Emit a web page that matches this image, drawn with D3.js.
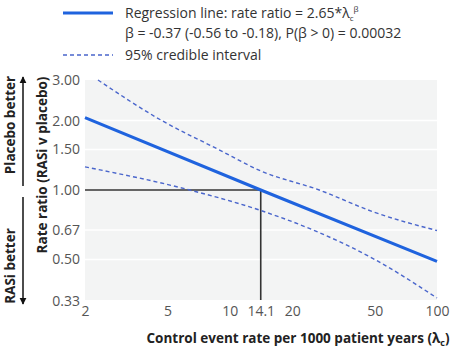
<!DOCTYPE html>
<html lang="en">
  <head>
    <meta charset="UTF-8" />
    <title>Rate ratio vs control event rate</title>
    <style>
      body { margin: 0; background: #fff; }
      text { font-family: "Open Sans", sans-serif; }
    </style>
  </head>
  <body>
    <svg id="container" width="474" height="351"></svg>
  </body>
  <script src="https://cdn.jsdelivr.net/npm/d3@7"></script>
  <script>
    // regression line (rate ratio vs control event rate)
    let regLambda = [2, 14.1, 100];
    let regRatio = [2.06, 1.00, 0.49];
    // 95% credible interval
    let upperLambda = [2.31, 4.7, 8.8, 14.1, 27, 50, 100];
    let upperRatio = [3.00, 2.00, 1.50, 1.21, 1.00, 0.80, 0.667];
    let lowerLambda = [2, 6.4, 14.1, 25.3, 50, 100];
    let lowerRatio = [1.26, 1.00, 0.815, 0.67, 0.50, 0.34];
    // ticks
    let xTicks = [2, 5, 10, 14.1, 20, 50, 100];
    let yTicks = [0.33, 0.5, 0.67, 1, 1.5, 2, 3];
    let yTickLabels = ["0.33", "0.50", "0.67", "1.00", "1.50", "2.00", "3.00"];
    let gridValues = [0.5, 0.67, 1, 1.5, 2];
    let refLambda = 14.1;

    let svg = d3.select("#container");
    let plotLeft = 85, plotRight = 437, plotTop = 80, plotBottom = 300;

    let x = d3.scaleLog().domain([2, 100]).range([plotLeft, plotRight]);
    let y = d3.scaleLog().domain([1 / 3, 3]).range([plotBottom, plotTop]);

    // plot background
    svg.append("rect").attr("x", plotLeft).attr("y", plotTop)
      .attr("width", plotRight - plotLeft).attr("height", plotBottom - plotTop)
      .attr("fill", "#f3f4f4");

    // white grid lines
    svg.selectAll(".grid").data(gridValues).enter().append("line")
      .attr("x1", plotLeft).attr("x2", plotRight)
      .attr("y1", d => y(d)).attr("y2", d => y(d))
      .attr("stroke", "#fff").attr("stroke-width", 1.5);

    // reference lines at rate ratio 1 and lambda 14.1
    svg.append("path")
      .attr("d", `M${plotLeft},${y(1)}H${x(refLambda)}V${plotBottom}`)
      .attr("fill", "none").attr("stroke", "#333").attr("stroke-width", 1.6);

    let line = d3.line().x(d => x(d[0])).y(d => y(d[1])).curve(d3.curveMonotoneX);

    svg.append("path").datum(d3.zip(upperLambda, upperRatio))
      .attr("d", line).attr("fill", "none")
      .attr("stroke", "#4a66cc").attr("stroke-width", 1.4).attr("stroke-dasharray", "4,3");
    svg.append("path").datum(d3.zip(lowerLambda, lowerRatio))
      .attr("d", line).attr("fill", "none")
      .attr("stroke", "#4a66cc").attr("stroke-width", 1.4).attr("stroke-dasharray", "4,3");
    svg.append("path").datum(d3.zip(regLambda, regRatio))
      .attr("d", line).attr("fill", "none")
      .attr("stroke", "#1f63de").attr("stroke-width", 3);

    // axes (labels only)
    let xAxis = d3.axisBottom(x).tickValues(xTicks).tickSize(0).tickPadding(6)
      .tickFormat(d => d === 14.1 ? "14.1" : d3.format("d")(d));
    let gx = svg.append("g").attr("transform", `translate(0,${plotBottom})`).call(xAxis);
    let yAxis = d3.axisLeft(y).tickValues(yTicks).tickSize(0).tickPadding(5)
      .tickFormat((d, i) => yTickLabels[i]);
    let gy = svg.append("g").attr("transform", `translate(${plotLeft},0)`).call(yAxis);
    [gx, gy].forEach(g => {
      g.select(".domain").remove();
      g.selectAll("text").attr("font-size", 14).attr("fill", "#555")
        .style("font-family", "'Open Sans', sans-serif");
    });

    // axis titles
    let xt = svg.append("text").attr("x", 298).attr("y", 343).attr("text-anchor", "middle")
      .attr("font-size", 13.5).attr("font-weight", "bold").attr("fill", "#222");
    xt.append("tspan").text("Control event rate per 1000 patient years (λ");
    xt.append("tspan").attr("font-size", 9).attr("dy", 3).text("c");
    xt.append("tspan").attr("dy", -3).text(")");

    svg.append("text").attr("transform", "translate(47,165) rotate(-90)")
      .attr("text-anchor", "middle").attr("font-size", 13.5).attr("font-weight", "bold")
      .attr("fill", "#222").text("Rate ratio (RASi v placebo)");

    // placebo / RASi better annotations
    svg.append("text").attr("transform", "translate(15,125) rotate(-90)")
      .attr("text-anchor", "middle").attr("font-size", 13.5).attr("font-weight", "bold")
      .attr("fill", "#222").text("Placebo better");
    svg.append("text").attr("transform", "translate(15,266) rotate(-90)")
      .attr("text-anchor", "middle").attr("font-size", 13.5).attr("font-weight", "bold")
      .attr("fill", "#222").text("RASi better");

    let defs = svg.append("defs");
    defs.append("marker").attr("id", "arrow").attr("viewBox", "0 0 10 10")
      .attr("refX", 9).attr("refY", 5).attr("markerWidth", 7).attr("markerHeight", 9)
      .attr("orient", "auto").attr("markerUnits", "userSpaceOnUse")
      .append("path").attr("d", "M0,0L10,5L0,10Z").attr("fill", "#111");
    svg.append("line").attr("x1", 23).attr("x2", 23).attr("y1", 186).attr("y2", 77)
      .attr("stroke", "#111").attr("stroke-width", 1.5).attr("marker-end", "url(#arrow)");
    svg.append("line").attr("x1", 23).attr("x2", 23).attr("y1", 197).attr("y2", 304)
      .attr("stroke", "#111").attr("stroke-width", 1.5).attr("marker-end", "url(#arrow)");

    // legend
    let lg = svg.append("g");
    let legX = 125;
    lg.append("line").attr("x1", 63).attr("x2", 113).attr("y1", 13).attr("y2", 13)
      .attr("stroke", "#1f63de").attr("stroke-width", 3);
    let t1 = lg.append("text").attr("x", legX).attr("y", 18).attr("font-size", 14).attr("fill", "#333");
    t1.append("tspan").text("Regression line: rate ratio = 2.65*λ");
    t1.append("tspan").attr("font-size", 8).attr("dy", 3).text("c");
    t1.append("tspan").attr("font-size", 8).attr("dy", -9).text("β");
    lg.append("text").attr("x", legX).attr("y", 38).attr("font-size", 14).attr("fill", "#333")
      .text("β = -0.37 (-0.56 to -0.18), P(β > 0) = 0.00032");
    lg.append("line").attr("x1", 63).attr("x2", 113).attr("y1", 55).attr("y2", 55)
      .attr("stroke", "#4a66cc").attr("stroke-width", 1.4).attr("stroke-dasharray", "4,3");
    lg.append("text").attr("x", legX).attr("y", 60).attr("font-size", 14).attr("fill", "#333")
      .text("95% credible interval");
  </script>
</html>
